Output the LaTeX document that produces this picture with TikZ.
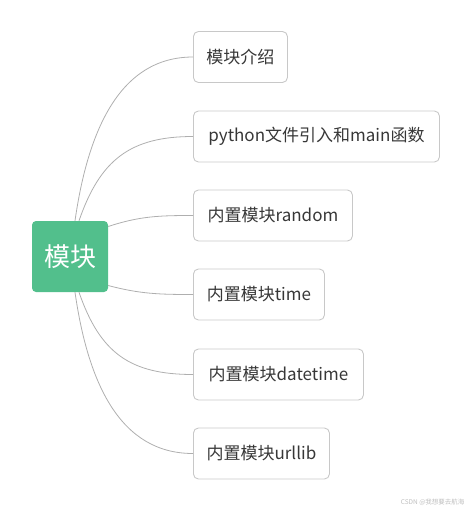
\documentclass[tikz,border=0pt]{standalone}
\usepackage{fontspec}
\usepackage{xcolor}
\setmainfont{Noto Sans CJK SC}
\usetikzlibrary{positioning}
\definecolor{rootgreen}{RGB}{82, 191, 140}
\definecolor{boxgray}{RGB}{200, 200, 200}
\definecolor{linegray}{RGB}{175, 175, 175}
\definecolor{textgray}{RGB}{55, 55, 55}

\begin{document}
\begin{tikzpicture}[
    x=1pt, y=-1pt,
    every node/.style={align=center},
    root/.style={rectangle, rounded corners=4pt, minimum width=76pt, minimum height=71pt, fill=rootgreen, text=white, font=\fontsize{26}{30}\selectfont},
    topic/.style={rectangle, rounded corners=5pt, anchor=west, minimum height=51pt, draw=boxgray, line width=0.9pt, text=textgray, font=\fontsize{17}{20}\selectfont},
    branch/.style={draw=linegray, line width=0.8pt}
]
\useasboundingbox (0,0) rectangle (474,512);

% Root and topics
\node[root] (mod) at (70,256.5) {模块};
\node[topic, minimum width=94pt] (intro) at (193,57) {模块介绍};
\node[topic, minimum width=246pt] (pyfile) at (193,136.5) {python文件引入和main函数};
\node[topic, minimum width=159pt] (random) at (193,215.5) {内置模块random};
\node[topic, minimum width=131pt] (time) at (193,294.5) {内置模块time};
\node[topic, minimum width=170pt] (datetime) at (193,374.5) {内置模块datetime};
\node[topic, minimum width=136pt] (urllib) at (193,453.5) {内置模块urllib};

% Branches
\draw[branch] ([xshift=5pt]mod.north) .. controls (88,130) and (120,57) .. (intro.west);
\draw[branch] ([xshift=9pt]mod.north) .. controls (100,160) and (130,136.5) .. (pyfile.west);
\draw[branch] ([yshift=30pt]mod.east) .. controls (140,216) and (160,215.5) .. (random.west);
\draw[branch] ([yshift=-29pt]mod.east) .. controls (140,294) and (160,294.5) .. (time.west);
\draw[branch] ([xshift=9pt]mod.south) .. controls (100,353) and (130,374.5) .. (datetime.west);
\draw[branch] ([xshift=5pt]mod.south) .. controls (88,383) and (120,453.5) .. (urllib.west);

% Watermark
\node[text=black!25, font=\fontsize{6.5}{8}\selectfont, anchor=east] (mark) at (468,502) {CSDN @我想要去航海};
\end{tikzpicture}
\end{document}
